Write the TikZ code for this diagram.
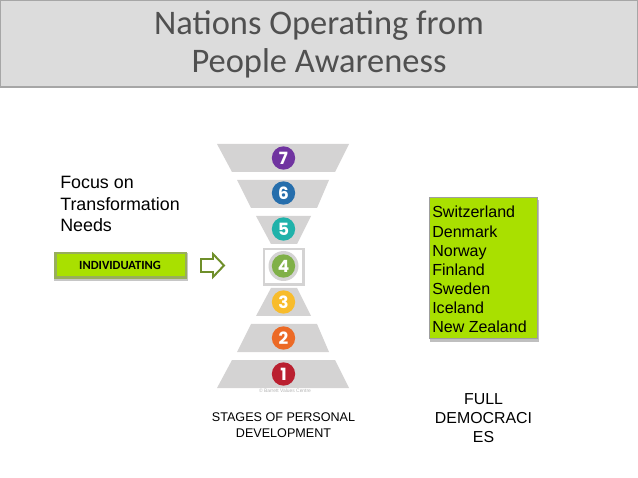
\documentclass[tikz,border=0pt]{standalone}
\usepackage{fontspec}
\setmainfont{Liberation Sans}
\newfontfamily\titlefont{Carlito}
\newfontfamily\numfont{Poppins}
\usetikzlibrary{positioning}

\definecolor{bandgray}{HTML}{DCDCDC}
\definecolor{bandedge}{HTML}{A6A6A6}
\definecolor{titlegray}{HTML}{505050}
\definecolor{stagegray}{HTML}{D4D3D3}
\definecolor{limegreen}{HTML}{A9E000}
\definecolor{bevelgreen}{HTML}{98AE5C}
\definecolor{arrowgreen}{HTML}{6F8F2A}

\tikzset{
  stagenum/.style={circle,minimum size=16.6pt,inner sep=0pt,text=white,font=\numfont\fontsize{12}{12}\selectfont\bfseries},
  plaintext/.style={align=left,anchor=north west,inner sep=0pt,text=black},
  centertext/.style={align=center,inner sep=0pt,text=black}
}

\begin{document}
\begin{tikzpicture}[x=0.025cm,y=-0.025cm]
        \useasboundingbox (0,0) rectangle (638,478);

        % Title band at the top
        \fill[bandedge] (0,0) rectangle (638,88);
        \fill[bandgray] (1,1) rectangle (637,86);
        \node[centertext,text=titlegray,font=\titlefont\fontsize{24.5}{26.6}\selectfont] (title) at (319,44.5)
            {Nations Operating from\\People Awareness};

        % Text on the left
        \node[plaintext,font=\fontsize{12.7}{15.3}\selectfont] (focus) at (60,176)
            {Focus on\\Transformation\\Needs};
        \fill[gray!45] (54,253) rectangle (188,281);
        \fill[bevelgreen] (54,252) rectangle (187,279);
        \fill[limegreen] (56.5,254.5) rectangle (184.5,276.5);
        \node[centertext,font=\titlefont\fontsize{8.9}{10}\selectfont\bfseries] (indiv) at (120,265)
            {INDIVIDUATING};

        % Hollow arrow
        \draw[arrowgreen,line width=1.4pt,fill=white,line join=miter]
            (201,259) -- (213,259) -- (213,254) -- (224,265.5) -- (213,277) -- (213,272) -- (201,272) -- cycle;

        % Stages, top half
        \fill[stagegray] (217,144) -- (349,144) -- (335,172) -- (232,172) -- cycle;
        \fill[stagegray] (237,180) -- (329,180) -- (317,208) -- (251,208) -- cycle;
        \fill[stagegray] (256,216) -- (311,216) -- (297,244) -- (271,244) -- cycle;

        % Stage in the middle
        \draw[stagegray,line width=1.5pt,fill=white] (264,249) rectangle (303.5,284.5);
        \fill[stagegray] (283.5,266) circle (15);

        % Stages, bottom half
        \fill[stagegray] (271,288) -- (297,288) -- (311,316) -- (256,316) -- cycle;
        \fill[stagegray] (251,324) -- (317,324) -- (329,352) -- (237,352) -- cycle;
        \fill[stagegray] (232,360) -- (335,360) -- (349,388) -- (217,388) -- cycle;

        % Numbers
        \node[stagenum,fill={rgb,255:red,112;green,52;blue,160}] (seven) at (283.5,158) {7};
        \node[stagenum,fill={rgb,255:red,38;green,110;blue,172}] (six) at (283.5,193) {6};
        \node[stagenum,fill={rgb,255:red,32;green,178;blue,170}] (five) at (283.5,229) {5};
        \node[stagenum,fill={rgb,255:red,128;green,176;blue,72}] (four) at (283.5,266) {4};
        \node[stagenum,fill={rgb,255:red,248;green,188;blue,44}] (three) at (283.5,302) {3};
        \node[stagenum,fill={rgb,255:red,236;green,106;blue,38}] (two) at (283.5,338) {2};
        \node[stagenum,fill={rgb,255:red,186;green,32;blue,48}] (one) at (283.5,374) {1};
        \node[centertext,text=gray!60,font=\fontsize{3.5}{4}\selectfont] (credit) at (285,391)
            {\textcopyright{} Barrett Values Centre};

        \node[centertext,font=\fontsize{8.95}{11.4}\selectfont] (stages) at (283.5,425)
            {STAGES OF PERSONAL\\DEVELOPMENT};

        % Countries on the right
        \fill[gray!50] (430,200) rectangle (539,342);
        \fill[gray!75] (429,197.5) rectangle (537.5,339.5);
        \fill[limegreen] (430,198.5) rectangle (536.5,338.5);
        \node[plaintext,font=\fontsize{11.4}{13.6}\selectfont] (nations) at (432,206)
            {Switzerland\\Denmark\\Norway\\Finland\\Sweden\\Iceland\\New Zealand};

        \node[centertext,font=\fontsize{11.3}{13.5}\selectfont] (full) at (483.5,418)
            {FULL\\DEMOCRACI\\ES};
    \end{tikzpicture}
\end{document}
